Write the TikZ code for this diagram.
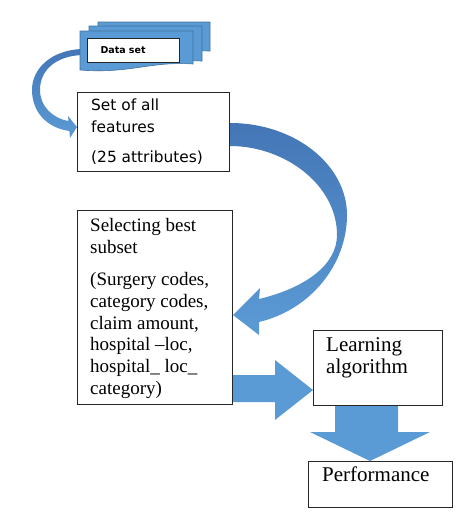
\documentclass[tikz,border=0pt]{standalone}
\usepackage{fontspec}
\setmainfont{Liberation Serif}
\newfontfamily\dejavu{DejaVu Sans}
\definecolor{arrowblue}{RGB}{91,155,213}
\definecolor{darkblue}{RGB}{68,118,182}
\definecolor{sheetedge}{RGB}{65,113,156}

\begin{document}
\begin{tikzpicture}[x=1pt,y=-1pt,
  box/.style={draw=black!85,line width=1pt,anchor=north west,inner sep=0pt},
  txt/.style={anchor=north west,inner sep=0pt,align=left},
  sheet/.style={fill=arrowblue,draw=sheetedge,line width=0.6pt}]
\useasboundingbox (0,0) rectangle (474,520);

\node[box,minimum width=152pt,minimum height=79pt] (features) at (77,92) {};
\node[box,minimum width=155pt,minimum height=194pt] (subset) at (77,210) {};
\node[box,minimum width=129pt,minimum height=75pt] (learn) at (313,330) {};
\node[box,minimum width=144pt,minimum height=46pt] (perf) at (308,461) {};

\node[txt,font=\dejavu\fontsize{15.4}{22}\selectfont] (featurestext) at ([shift={(14,7)}]features.north west) {Set of all\\features\\[8pt](25 attributes)};
\node[txt,font=\fontsize{19}{21.7}\selectfont] (subsettext) at ([shift={(13,8)}]subset.north west) {Selecting best\\subset\\[11pt](Surgery codes,\\category codes,\\claim amount,\\hospital –loc,\\hospital\_ loc\_\\category)};
\node[txt,font=\fontsize{21}{22}\selectfont] (learntext) at ([shift={(13,7)}]learn.north west) {Learning\\algorithm};
\node[txt,font=\fontsize{21}{22}\selectfont] (perftext) at ([shift={(14,6)}]perf.north west) {Performance};

\shade[top color=darkblue,bottom color=arrowblue] (82,49) .. controls (52,50) and (32,68) .. (32,90)
  .. controls (32,112) and (47,128) .. (69.4,131) -- (70,138) -- (features.west |- 0,127) -- (68,116)
  -- (68.5,121) .. controls (52,118) and (40,106) .. (40,90) .. controls (40,70) and (56,56) .. (82,55) -- cycle;

\shade[top color=darkblue,bottom color=arrowblue] (features.east |- 0,123) .. controls (295,123) and (347,165) .. (347,215)
  .. controls (347,265) and (310,310) .. (259,322) -- (259,335) -- (subset.east |- 0,315) -- (260,288)
  -- (259,299) .. controls (305,288) and (337,265) .. (337,235) .. controls (337,185) and (285,146) .. (features.east |- 0,146) -- cycle;

\fill[arrowblue] (subset.east |- 0,375) -- (275,375) -- (275,360) -- (learn.west |- 0,390) -- (275,420) -- (275,402) -- (subset.east |- 0,402) -- cycle;
\fill[arrowblue] (335,0 |- learn.south) -- (335,432) -- (310,432) -- (370,0 |- perf.north) -- (430,432) -- (398,432) -- (398,0 |- learn.south) -- cycle;

\filldraw[sheet] (98,22) -- (210,22) -- (210,51) .. controls (180,50) and (150,58) .. (98,58) -- cycle;
\filldraw[sheet] (89,26) -- (202,26) -- (202,61) .. controls (170,60) and (140,66) .. (89,64) -- cycle;
\filldraw[sheet] (80,31) -- (193,31) -- (193,64) .. controls (150,61) and (130,74) .. (80,70) -- cycle;
\node[box,fill=white,minimum height=24pt,text width=66pt,inner xsep=13pt,align=left,font=\dejavu\bfseries\fontsize{9.5}{11}\selectfont] (dataset) at (87,38) {Data set};
\end{tikzpicture}
\end{document}
